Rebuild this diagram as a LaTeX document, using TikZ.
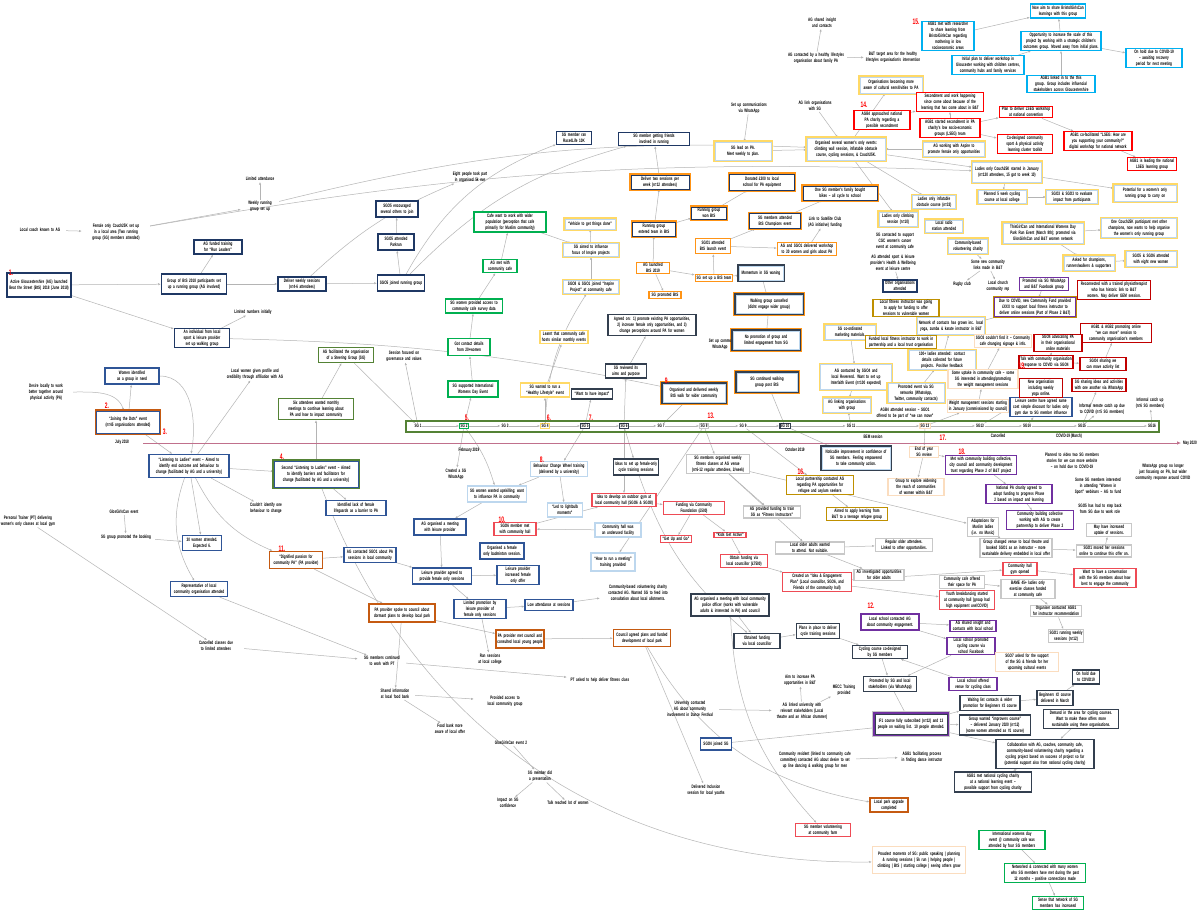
\documentclass[tikz,border=0pt]{standalone}
\usepackage{fontspec}
\setmainfont{Liberation Sans}[FakeStretch=0.62]
\usetikzlibrary{arrows.meta}
\hyphenpenalty=10000
\exhyphenpenalty=10000
\definecolor{nv}{HTML}{1F3864}
\definecolor{bl}{HTML}{2F5597}
\definecolor{lb}{HTML}{BDD7EE}
\definecolor{ye}{HTML}{FFD966}
\definecolor{og}{HTML}{FF9416}
\definecolor{bo}{HTML}{C55A11}
\definecolor{gr}{HTML}{00B050}
\definecolor{ol}{HTML}{548235}
\definecolor{sl}{HTML}{333F4F}
\definecolor{rd}{HTML}{FF0000}
\definecolor{lr}{HTML}{EE4B55}
\definecolor{dr}{HTML}{C00000}
\definecolor{pu}{HTML}{7030A0}
\definecolor{gd}{HTML}{BF9000}
\definecolor{gy}{HTML}{C8C8C8}
\definecolor{pc}{HTML}{FBDDBF}
\definecolor{cy}{HTML}{00B0F0}
\definecolor{tlc}{HTML}{C0708C}
\definecolor{ln}{HTML}{B4B4B4}
\pgfdeclarelayer{bg}
\pgfsetlayers{bg,main}
\tikzset{
 nbase/.style={font=\bfseries\fontsize{4.9}{5.9}\selectfont, align=center, inner xsep=1pt, inner ysep=1pt, text=black},
 bx/.style={nbase, fill=white, draw=#1, line width=1.3pt},
 dbx/.style 2 args={nbase, fill=white, draw=#2, line width=0.9pt, preaction={draw=#1, line width=3.8pt}},
 tbx/.style n args={3}{nbase, fill=white, draw=#3, line width=0.8pt, preaction={draw=#1, line width=6.4pt}, preaction={draw=#2, line width=3.6pt}},
 txt/.style={nbase},
 num/.style={text=rd, font=\bfseries\fontsize{8}{8}\selectfont, inner sep=0pt},
 ar/.style={draw=ln, line width=0.5pt, -{Latex[length=2.6pt,width=2.2pt]}},
 sgt/.style={nbase, inner sep=0.8pt},
}
\newcommand\Bx[7]{\node[#2,text width=#5pt,minimum height=#6pt] (#1) at (#3,#4) {#7};}
\newcommand\Tx[5]{\node[txt,text width=#4pt] (#1) at (#2,#3) {#5};}
\newcommand\Nm[3]{\node[num] at (#1,#2) {#3};}
\begin{document}
\begin{tikzpicture}[x=1pt,y=-1pt]
\begin{pgfonlayer}{bg}
\fill[white] (0,0) rectangle (1200,914);
\end{pgfonlayer}
\useasboundingbox (0,0) rectangle (1200,914);

% ---------- timeline ----------
\node[draw=ol, line width=1.2pt, minimum width=753pt, minimum height=11pt, inner sep=0pt] (tlbox) at (782.5,426.5) {};
\node[sgt] (sg1) at (418,426) {SG 1};
\node[sgt, fill=white, draw=gr, line width=1.2pt] (sg2) at (464,426) {SG 2};
\node[sgt] (sg3) at (505,426) {SG 3};
\node[sgt, fill=white, draw=ye, line width=1.2pt] (sg4) at (545,426) {SG 4};
\node[sgt, fill=white, draw=sl, line width=1.2pt] (sg5) at (585,426) {SG 5};
\node[sgt, fill=white, draw=sl, line width=1.2pt] (sg6) at (624,426) {SG 6};
\node[sgt] (sg7) at (661,426) {SG 7};
\node[sgt, fill=white, draw=gy, line width=1.2pt] (sg8) at (704,426) {SG 8};
\node[sgt] (sg9) at (743,426) {SG 9};
\node[sgt, fill=white, draw=sl, line width=1.2pt] (sg10) at (785,426) {SG 10};
\node[sgt] (sg11) at (851,426) {SG 11};
\node[sgt, fill=white, draw=pc, line width=1.2pt] (sg12) at (925,426) {SG 12};
\node[sgt] (sg13) at (980,426) {SG13};
\node[sgt] (sg14) at (1027,426) {SG14};
\node[sgt] (sg15) at (1082,426) {SG15};
\node[sgt] (sg16) at (1152,426) {SG16};
\coordinate (ts) at (143,443);
\coordinate (te) at (1181,443);
\draw[tlc, line width=0.7pt, -{Latex[length=4pt,width=3.5pt]}] (ts) -- (te);
\node[txt, anchor=west] (may) at (1182,443) {May 2020};
\node[txt] (jul) at (122,442) {July 2018};
\node[txt] (feb) at (469,450) {February 2019};
\node[txt] (oct) at (795,450) {October 2019};
\node[txt] (canc) at (998,436) {Cancelled};
\node[txt] (covid) at (1069,436) {COVID-19 (March)};
\node[txt] (bem) at (873,437) {BEM session};

% ---------- left / running ----------
\Bx{bts18}{bx=nv}{39}{285}{62}{24}{Active Gloucestershire (AG) launched Beat the Street (BtS) 2018 (June 2018)}
\Tx{coach}{40}{230}{50}{Local coach known to AG}
\Tx{femc}{116}{232}{66}{Female only Couch25K set up in a local area (Two running group (SG) members attended)}
\Tx{weekly}{260}{206}{36}{Weekly running group set up}
\Tx{limatt}{260}{179}{40}{Limited attendance}
\Bx{runlead}{bx=nv}{218}{247}{46}{14}{AG funded training for ``Run Leaders''}
\Bx{grp18}{bx=nv}{194}{284}{63}{20}{Group of BtS 2018 participants set up a running group (AG involved)}
\Bx{delw}{bx=nv}{302}{284}{46}{14}{Deliver weekly sessions (n=4-6 attendees)}
\Bx{sgo5j}{bx=nv}{401}{283}{45}{16}{SGO5 joined running group}
\Bx{parkrun}{bx=nv}{396}{242}{34}{16}{SGO5 attended Parkrun}
\Bx{encour}{bx=nv}{397}{209}{40}{16}{SGO5 encouraged several others to join}
\Tx{eight}{470}{177}{48}{Eight people took part in organised 5k run}
\Bx{race}{bx=nv}{574}{138}{33}{13}{SG member ran Race4Life 10K}
\Bx{friends}{bx=nv}{654}{139}{69}{13}{SG member getting friends involved in running}
\Bx{walkgrp}{bx=nv}{202}{338}{53}{18}{An individual from local sport \& leisure provider set up walking group}
\Tx{limnum}{253}{312}{45}{Limited numbers initially}

% ---------- green ----------
\Bx{cafew}{bx=gr}{510}{222}{70}{20}{Cafe want to work with wider population (perception that cafe primarily for Muslim community)}
\Bx{metcafe}{bx=gr}{500}{266}{32}{13}{AG met with community cafe}
\Bx{survey}{bx=gr}{474}{306}{55}{14}{SG women provided access to community cafe survey data}
\Bx{contacts}{bx=gr}{469}{347}{40}{17}{Got contact details from 20+women}
\Bx{iwd}{bx=gr}{473}{389}{48}{16}{SG supported International Womens Day Event}

% ---------- olive / blue ----------
\Bx{sgfac}{bx=ol}{346}{355}{53}{15}{AG facilitated the organisation of a Steering Group (SG)}
\Bx{sixatt}{bx=ol}{316}{409}{73}{21}{Six attendees wanted monthly meetings to continue learning about PA and how to impact community}
\Tx{govern}{404}{356}{42}{Session focused on governance and values}
\Tx{profile}{255}{374}{60}{Local women given profile and credibility through affiliation with AG}
\Bx{wneed}{bx=bl}{132}{376}{52}{16}{Women identified as a group in need}
\Bx{dots}{dbx={bo}{bl}}{128}{422}{61}{22}{``Joining the Dots'' event (n=45 organisations attended)}
\Tx{desire}{46}{392}{52}{Desire locally to work better together around physical activity (PA)}
\Bx{listen}{bx=bl}{189}{466}{78}{23}{``Listening to Ladies'' event -- Aimed to identify end outcome and behaviour to change (facilitated by AG and a university)}
\Bx{second}{dbx={ol}{bl}}{316}{474}{82}{26}{Second ``Listening to Ladies'' event -- Aimed to identify barriers and facilitators for change (facilitated by AG and a university)}
\Tx{couldnt}{266}{508}{56}{Couldn't identify one behaviour to change}
\Bx{lifeg}{bx=bl}{356}{508}{58}{15}{Identified lack of female lifeguards as a barrier to PA}
\Bx{thirty}{bx=bl}{202}{543}{37}{15}{30 women attended. Expected 6.}
\Tx{glosev}{124}{512}{40}{GlosGirlsCan event}
\Tx{sgprom}{126}{537}{56}{SG group promoted the booking}
\Tx{pt}{28}{521}{58}{Personal Trainer (PT) delivering women's only classes at local gym}
\Bx{rep}{bx=bl}{199}{589}{55}{15}{Representative of local community organisation attended}
\Bx{dignif}{bx=bo}{296}{560}{51}{17}{``Dignified passion for community PA'' (PA provider)}
\Bx{agmeet}{bx=bl}{440}{527}{50}{16}{AG organised a meeting with leisure provider}
\Bx{agcont}{bx=bl}{370}{555}{50}{15}{AG contacted SGO1 about PA sessions in local community}
\Bx{lagreed}{bx=bl}{442}{576}{57}{16}{Leisure provider agreed to provide female only sessions}
\Bx{linc}{bx=bl}{518}{575}{40}{14}{Leisure provider increased female only offer}
\Bx{badm}{bx=bl}{502}{551}{42}{16}{Organised a female only badminton session.}
\Bx{limprom}{bx=bl}{480}{609}{50}{16}{Limited promotion by leisure provider of female only sessions}
\Bx{lowatt}{bx=bl}{549}{605}{46}{11}{Low attendance at sessions}
\Bx{paspoke}{bx=bo}{402}{613}{64}{18}{PA provider spoke to council about dormant plans to develop local park}
\Bx{pamet}{bx=bo}{520}{639}{46}{18}{PA provider met council and consulted local young people}
\Bx{council}{bx=bo}{642}{638}{55}{17}{Council agreed plans and funded development of local park}
\Bx{park}{bx=bo}{889}{805}{36}{14}{Local park upgrade completed}
\Bx{sgo4j}{bx=bl}{716}{744}{29}{12}{SGO4 joined SG}
\Bx{leisdisc}{bx=bl}{1041}{407}{60}{19}{Leisure centre have agreed same cost simple discount for ladies only gym due to SG member influence}

% ---------- light blue ----------
\Bx{bcw}{bx=lb}{559}{469}{55}{15}{Behaviour Change Wheel training (delivered by a university)}
\Bx{upskill}{bx=lb}{497}{494}{57}{16}{SG women wanted upskilling; want to influence PA in community}
\Bx{bulb}{bx=lb}{565}{510}{33}{14}{``Led to lightbulb moments''}
\Bx{hallund}{bx=lb}{618}{530}{44}{14}{Community hall was an underused facility}
\Bx{howrun}{bx=lb}{613}{562}{42}{18}{``How to run a meeting'' training provided}

% ---------- slate ----------
\Bx{wantimp}{bx=sl}{592}{394}{39}{10}{``Want to have impact''}
\Bx{review}{bx=sl}{626}{371}{39}{14}{SG reviewed its aims and purpose}
\Bx{agreed}{bx=sl}{652}{325}{86}{21}{Agreed on: 1) promote existing PA opportunities, 2) increase female only opportunities, and 3) change perceptions around PA for women}
\Bx{ideacyc}{bx=sl}{636}{467}{43}{16}{Ideas to set up female-only cycle training sessions}
\Bx{notice}{dbx={sl}{lb}}{856}{458}{66}{22}{Noticable improvement in confidence of SG members. Feeling empowered to take community action.}
\Bx{obtained}{bx=sl}{757}{641}{44}{15}{Obtained funding via local councillor}
\Bx{plans}{bx=sl}{818}{631}{41}{15}{Plans in place to deliver cycle training sessions}
\Bx{cyccourse}{bx=sl}{880}{652}{53}{13}{Cycling course co-designed by SG members}
\Bx{promsg}{bx=sl}{890}{684}{51}{15}{Promoted by SG and local stakeholders (via WhatsApp)}
\Bx{if1}{tbx={gy}{pu}{sl}}{911}{724}{70}{20}{IF1 course fully subscribed (n=12) and 13 people on waiting list. 10 people attended.}
\Bx{waiting}{bx=sl}{990}{703}{58}{15}{Waiting list contacts \& wider promotion for Beginners \#2 course}
\Bx{improv}{bx=sl}{995}{725}{69}{20}{Group wanted ``improvers course'' -- delivered January 2020 (n=12) (some women attended as \#1 course)}
\Bx{beg2}{bx=sl}{1055}{698}{34}{15}{Beginners \#2 course delivered in March}
\Bx{onhold2}{bx=sl}{1086}{677}{25}{14}{On hold due to COVID19}
\Bx{demand}{bx=sl}{1081}{719}{73}{18}{Demand in the area for cycling courses. Want to make these offers more sustainable using these organisations.}
\Bx{collab}{bx=sl}{1045}{754}{96}{29}{Collaboration with AG, coaches, community cafe, community-based volunteering charity regarding a cycling project based on success of project so far (potential support also from national cycling charity)}
\Bx{agbcyc}{bx=sl}{993}{782}{75}{20}{AGB1 met national cycling charity at a national learning event -- possible support from cycling charity}
\Bx{police}{bx=sl}{730}{605}{76}{22}{AG organised a meeting with local community police officer (works with vulnerable adults \& interested in PA) and council}

% ---------- BtS 2019 ----------
\Bx{del2}{dbx={og}{nv}}{660}{182}{56}{14}{Deliver two sessions per week (n=12 attendees)}
\Bx{donated}{dbx={og}{nv}}{762}{182}{63}{16}{Donated £300 to local school for PA equipment}
\Bx{family}{dbx={og}{nv}}{840}{193}{72}{14}{One SG member's family bought bikes -- all cycle to school}
\Bx{won}{dbx={og}{nv}}{709}{213}{33}{12}{Running group won BtS}
\Bx{entered}{dbx={og}{nv}}{654}{229}{41}{14}{Running group entered team in BtS}
\Bx{champ}{dbx={og}{nv}}{775}{221}{49}{15}{SG members attended BtS Champions event}
\Tx{satellite}{825}{222}{44}{Link to Satellite Club (AG initiative) funding}
\Bx{launchev}{bx=og}{713}{246}{33}{15}{SGO1 attended BtS launch event}
\Bx{workshop}{bx=og}{807}{249}{57}{13}{AG and SGO1 delivered workshop to 30 women and girls about PA}
\Bx{launchnn}{bx=og}{653}{268}{31}{9}{AG launched BtS 2019}
\Bx{setup}{bx=og}{714}{278}{35}{7}{SG set up a BtS team}
\Bx{promnn}{bx=og}{665}{295}{30}{6}{SG promoted BtS}
\Bx{momentum}{dbx={sl}{lb}}{761}{273}{42}{14}{Momentum in SG waning}
\Bx{walkcanc}{tbx={og}{sl}{lb}}{769}{304}{64}{18}{Walking group cancelled (didnt engage wider group)}
\Bx{nopromo}{tbx={og}{sl}{lb}}{766}{340}{64}{18}{No promotion of group and limited engagement from SG}
\Bx{contwalk}{tbx={og}{sl}{lb}}{767}{382}{58}{18}{SG continued walking group post BtS}
\Bx{btswalk}{tbx={og}{sl}{lb}}{694}{393}{60}{18}{Organised and delivered weekly BtS walk for wider community}
\Tx{comms}{720}{344}{28}{Set up comms WhatsApp}

% ---------- yellow ----------
\Bx{vehicle}{dbx={ye}{lb}}{590}{224}{48}{10}{``Vehicle to get things done''}
\Bx{inspaim}{dbx={ye}{lb}}{591}{250}{53}{13}{SG aimed to influence focus of Inspire projects}
\Bx{inspj}{dbx={ye}{lb}}{591}{287}{53}{13}{SGO8 \& SGO1 joined ``Inspire Project'' at community cafe}
\Bx{learnt}{bx=ye}{564}{337}{46}{13}{Learnt that community cafe hosts similar monthly events}
\Bx{healthy}{bx=ye}{545}{390}{47}{14}{SG wanted to run a ``Healthy Lifestyle'' event}
\Bx{orgs}{dbx={ye}{lb}}{891}{85}{60}{16}{Organisations becoming more aware of cultural sensitivities to PA}
\Bx{aspire}{dbx={ye}{lb}}{954}{149}{59}{14}{AG working with Aspire to promote female only opportunities}
\Bx{ladc}{dbx={ye}{lb}}{1007}{172}{67}{20}{Ladies only Couch25K started in January (n=120 attendees, 15 got to week 10)}
\Bx{plan5}{dbx={ye}{lb}}{1002}{197}{46}{13}{Planned 5 week cycling course at local college}
\Bx{eval}{dbx={ye}{lb}}{1072}{197}{49}{13}{SGO3 \& SGO3 to evaluate impact from participants}
\Bx{potential}{dbx={ye}{lb}}{1145}{193}{60}{16}{Potential for a women's only running group to carry on}
\Bx{thisgirl}{dbx={ye}{lb}}{1043}{233}{78}{20}{ThisGirlCan and International Womens Day Park Run Event (March 8th); promoted via GlosGirlsCan and B\&T women network}
\Bx{onec}{dbx={ye}{lb}}{1139}{228}{73}{19}{One Couch25K participant met other champions, now wants to help organise the women's only running group}
\Bx{asked}{dbx={ye}{lb}}{1089}{263}{48}{14}{Asked for champions, runners/walkers \& supporters}
\Bx{sgofs}{dbx={ye}{lb}}{1151}{259}{48}{15}{SGO5 \& SGO6 attended with eight new women}
\Bx{inflat}{dbx={ye}{lb}}{934}{202}{41}{13}{Ladies only inflatable obstacle course (n=33)}
\Bx{climb}{dbx={ye}{lb}}{898}{219}{36}{14}{Ladies only climbing session (n=10)}
\Bx{radio}{dbx={ye}{lb}}{944}{226}{35}{12}{Local radio station attended}
\Bx{volch}{dbx={ye}{lb}}{968}{246}{37}{14}{Community-based volunteering charity}
\Bx{several}{dbx={ye}{lb}}{846}{149}{76}{22}{Organised several women's only events: climbing wall session, inflatable obstacle course, cycling sessions, \& Couch25K.}
\Bx{sglead}{dbx={ye}{lb}}{743}{151}{54}{18}{SG lead on PA. Meet weekly to plan.}
\Bx{market}{dbx={ye}{lb}}{850}{332}{48}{14}{SG co-ordinated marketing materials.}
\Bx{reverend}{dbx={ye}{lb}}{856}{377}{69}{25}{AG contacted by SGO4 and local Reverend. Want to set up Interfaith Event (n=100 expected)}
\Bx{linking}{dbx={ye}{lb}}{847}{405}{45}{14}{AG linking organisations with group}
\Bx{promev}{dbx={ye}{lb}}{916}{393}{54}{16}{Promoted event via SG networks (WhatsApp, Twitter, community contacts)}
\Bx{network}{dbx={ye}{lb}}{951}{326}{65}{17}{Network of contacts has grown inc. local yoga, zumba \& karate instructor in B\&T}
\Bx{hundred}{dbx={ye}{lb}}{942}{360}{64}{15}{100+ ladies attended: contact details collected for future projects. Positive feedback}

% ---------- red top right ----------
\Bx{secondm}{bx=rd}{950}{102}{65}{16}{Secondment and work happening since come about because of the learning that has come about in B\&T}
\Bx{agbsec}{bx=rd}{950}{128}{58}{16}{AGB1 started secondment in PA charity's low socio-economic groups (LSEG) team}
\Bx{planlseg}{bx=rd}{1026}{112}{51}{11}{Plan to deliver LSEG workshop at national convention}
\Bx{codes}{bx=rd}{1025}{144}{53}{17}{Co-designed community sport \& physical activity learning cluster toolkit}
\Bx{cofac}{bx=rd}{1098}{141}{66}{18}{AGB1 co-facilitated ``LSEG: How are you supporting your community?'' digital workshop for national network}
\Bx{leadlseg}{bx=rd}{1152}{164}{47}{12}{AGB1 is leading the national LSEG learning group}
\Bx{agbfour}{bx=rd}{882}{120}{54}{17}{AGB4 approached national PA charity regarding a possible secondment}

% ---------- cyan ----------
\Bx{nowaim}{bx=cy}{1058}{11}{53}{14}{Now aim to share BristolGirlsCan learnings with this group}
\Bx{agbres}{bx=cy}{948}{36}{50}{18}{AGB1 met with researcher to share learning from BristolGirlsCan regarding mothering in low socioeconomic areas}
\Bx{opport}{bx=cy}{1061}{41}{78}{18}{Opportunity to increase the scale of this project by working with a strategic children's outcomes group. Moved away from initial plans.}
\Bx{onholda}{bx=cy}{1154}{58}{54}{17}{On hold due to COVID-19 -- awaiting recovery period for next meeting}
\Bx{initial}{bx=cy}{988}{65}{70}{17}{Initial plan to deliver workshop in Gloucester working with children centres, community hubs and family services}
\Bx{linkedin}{bx=cy}{1061}{84}{66}{17}{AGB1 linked in to the this group. Group includes influencial stakeholders across Gloucestershire}

% ---------- plain top ----------
\Tx{agshared}{822}{23}{40}{AG shared insight and contacts}
\Tx{healthyorg}{816}{58}{60}{AG contacted by a healthy lifestyles organisation about family PA}
\Tx{target}{893}{57}{56}{B\&T target area for the healthy lifestyles organisation's intervention}
\Tx{setcomm}{749}{108}{42}{Set up communications via WhatsApp}
\Tx{aglink}{815}{106}{36}{AG link organisations with SG}
\Tx{cgc}{895}{241}{60}{SG contacted to support CGC women's cancer event at community cafe}
\Tx{hw}{893}{263}{60}{AG attended sport \& leisure provider's Health \& Wellbeing event at leisure centre}
\Tx{newlinks}{988}{265}{46}{Some new community links made in B\&T}
\Tx{rugby}{962}{284}{22}{Rugby club}
\Tx{church}{998}{286}{30}{Local church community rep}
\Bx{otherorg}{bx=nv}{900}{286}{32}{12}{Other organisations attended}
\Bx{fitinst}{bx=gd}{906}{308}{64}{16}{Local fitness instructor was going to apply for funding to offer sessions to vulnerable women}
\Bx{funded}{bx=gd}{901}{342}{69}{10}{Funded local fitness instructor to work in partnership and a local trust organisation}
\Bx{signage}{bx=pc}{1003}{341}{55}{9}{SGO3 couldn't find it -- Community cafe changing signage \& info.}
\Bx{uptake}{bx=pc}{983}{379}{68}{15}{Some uptake in community cafe -- some SG interested in attending/promoting the weight management sessions}
\Bx{weight}{bx=pc}{978}{406}{59}{11}{Weight management sessions starting in January (commissioned by council)}
\Tx{agbatt}{905}{413}{62}{AGB4 attended session -- SGO1 offered to be part of ``we can move''}

% ---------- purple / dark red right ----------
\Bx{promwa}{bx=pu}{1044}{284}{47}{12}{Promoted via SG WhatsApp and B\&T Facebook group}
\Bx{covidfund}{dbx={gd}{pu}}{1035}{307}{79}{15}{Due to COVID, new Community Fund provided £XXX to support local fitness instructor to deliver online sessions (Part of Phase 2 B\&T)}
\Bx{physio}{bx=dr}{1114}{290}{71}{17}{Reconnected with a trained physiotherapist who has historic link to B\&T women. May deliver GEM session.}
\Bx{wecan}{bx=dr}{1116}{333}{69}{16}{AGB1 \& AGB2 promoting online ``we can move'' session to community organisation's members}
\Bx{sgoadv}{bx=dr}{1058}{343}{46}{8}{SGO4 advocating PA in their organisational online materials}
\Bx{talk}{bx=dr}{1046}{362}{52}{9}{Talk with community organisation response to COVID via SGO4}
\Bx{sgoshare}{bx=dr}{1103}{364}{44}{9}{SGO4 sharing we can move activity list}
\Bx{sgshare}{bx=dr}{1099}{385}{52}{8}{SG sharing ideas and activities with one another via WhatsApp}
\Bx{yoga}{bx=dr}{1041}{388}{41}{8}{New organisation including weekly yoga online.}
\Tx{remote}{1102}{409}{56}{Informal remote catch up due to COVID (n=5 SG members)}
\Tx{informal}{1150}{403}{40}{Informal catch up (n=6 SG members)}

% ---------- grey ----------
\Bx{fitness}{bx=gy}{718}{464}{61}{18}{SG members organised weekly fitness classes at AG venue (n=6-12 regular attendees, 2/week)}
\Bx{agfund}{bx=gy}{772}{512}{55}{12}{AG provided funding to train SG as ``Fitness Instructors''}
\Bx{older}{bx=gy}{810}{548}{67}{12}{Local older adults wanted to attend. Not suitable.}
\Bx{investig}{bx=gy}{879}{575}{48}{9}{AG investigated opportunities for older adults}
\Bx{regular}{bx=gy}{904}{545}{55}{9}{Regular older attendees. Linked to other opportunities.}
\Bx{muslim}{bx=gy}{983}{527}{29}{11}{Adaptations for Muslim ladies (i.e. no Music)}
\Bx{venue}{bx=gy}{1016}{548}{70}{14}{Group changed venue to local theatre and booked SGO1 as an instructor -- more sustainable delivery embedded in local offer}
\Bx{online}{bx=gy}{1104}{551}{53}{12}{SGO1 moved her sessions online to continue this offer on.}
\Bx{uptaketwo}{bx=gy}{1109}{530}{43}{9}{May have increased uptake of sessions.}
\Bx{bame}{bx=gy}{1028}{589}{52}{11}{BAME 45+ ladies only exercise classes funded at community cafe}
\Bx{cafespace}{bx=gy}{962}{582}{43}{11}{Community cafe offered their space for PA}
\Bx{organiser}{bx=gy}{1056}{611}{49}{11}{Organiser contacted AGB1 for instructor recommendation}
\Bx{sgorun}{bx=gy}{1066}{636}{33}{12}{SGO1 running weekly sessions (n=12)}

% ---------- light red ----------
\Bx{sgomet}{bx=lr}{515}{529}{40}{10}{SGO6 member met with community hall}
\Bx{outgym}{bx=lr}{624}{500}{62}{11}{Idea to develop an outdoor gym at local community hall (SGO6 \& SGO8)}
\Bx{cfund}{bx=lr}{694}{508}{59}{10}{Funding via Community Foundation (£500)}
\Bx{getup}{bx=lr}{676}{539}{29}{5}{``Get Up and Go''}
\Bx{kids}{bx=lr}{730}{535}{30}{5}{``Kids Get Active''}
\Bx{obtain}{bx=lr}{744}{561}{45}{11}{Obtain funding via local councillor (£7500)}
\Bx{idea}{bx=lr}{817}{582}{67}{17}{Created an ``Idea \& Engagement Plan'' (Local councillor, SGO6, and Friends of the community hall)}
\Bx{hallgym}{bx=lr}{1020}{569}{32}{12}{Community hall gym opened}
\Bx{convers}{bx=lr}{1105}{578}{60}{17}{Want to have a conversation with the SG members about how best to engage the community}
\Bx{youth}{bx=lr}{967}{600}{53}{14}{Youth breakdancing started at community hall (group had high equipment use/COVID)}
\Bx{farm}{bx=lr}{823}{830}{53}{13}{SG member volunteering at community farm}

% ---------- purple ----------
\Bx{metcoll}{bx=pu}{981}{465}{69}{17}{Met with community building collective, city council and community development trust regarding Phase 2 of B\&T project}
\Bx{natpa}{bx=pu}{1019}{494}{64}{16}{National PA charity agreed to adopt funding to progress Phase 2 based on impact and learning}
\Bx{commbuild}{bx=pu}{1040}{520}{65}{17}{Community building collective working with AG to create partnership to deliver Phase 2}
\Bx{school}{bx=pu}{890}{622}{56}{16}{Local school contacted AG about community engagement.}
\Bx{agschool}{bx=pu}{973}{626}{44}{11}{AG shared insight and contacts with local school}
\Bx{schoolfb}{bx=pu}{971}{646}{46}{10}{Local school promoted cycling course via school Facebook}
\Bx{schoolven}{bx=pu}{973}{684}{46}{10}{Local school offered venue for cycling class}

% ---------- peach / gold / green bottom ----------
\Bx{endyear}{bx=pc}{924}{452}{27}{9}{End of year SG review}
\Bx{explore}{bx=pc}{916}{487}{54}{15}{Group to explore widening the reach of communities of women within B\&T}
\Bx{sgoseven}{bx=pc}{1027}{662}{61}{15}{SGO7 asked for the support of the SG \& friends for her upcoming cultural events}
\Bx{proud}{bx=pc}{919}{860}{91}{27}{Proudest moments of SG: public speaking | planning \& running sessions | 5k run | helping people | climbing | BtS | starting college | seeing others grow}
\Bx{refugee}{bx=gd}{820}{485}{65}{18}{Local partnership contacted AG regarding PA opportunities for refugee and asylum seekers}
\Bx{teen}{bx=gd}{857}{514}{59}{12}{Aimed to apply learning from B\&T to a teenage refugee group}
\Bx{iwdtwo}{bx=gr}{1012}{840}{64}{18}{International womens day event @ community cafe was attended by four SG members}
\Bx{netw}{bx=gr}{1045}{873}{79}{17}{Networked \& connected with many women who SG members have met during the past 12 months -- positive connections made}
\Bx{sense}{bx=gr}{1058}{903}{49}{13}{Sense that network of SG members has increased}

% ---------- plain bottom ----------
\Tx{ptcont}{382}{661}{46}{SG members continued to work with PT}
\Tx{college}{490}{659}{36}{Ran sessions at local college}
\Tx{ptask}{600}{680}{64}{PT asked to help deliver fitness class}
\Tx{shared}{395}{694}{38}{Shared information at local food bank}
\Tx{provided}{505}{701}{60}{Provided access to local community group}
\Tx{foodbank}{450}{729}{44}{Food bank more aware of local offer}
\Tx{glostwo}{511}{743}{40}{GlosGirlsCan event 2}
\Tx{pres}{540}{776}{32}{SG member did a presentation}
\Tx{impact}{508}{803}{28}{Impact on SG confidence}
\Tx{talkr}{568}{803}{48}{Talk reached lot of women}
\Tx{cancel}{216}{646}{54}{Cancelled classes due to limited attendees}
\Tx{inclusion}{706}{790}{46}{Delivered Inclusion session for local youths}
\Tx{univ}{690}{709}{56}{University contacted AG about community involvement in Dance Festival}
\Tx{aglinked}{802}{711}{58}{AG linked university with relevant stakeholders (Local theatre and an African drummer)}
\Tx{aimpa}{800}{680}{36}{Aim to increase PA opportunities in B\&T}
\Tx{mecc}{844}{690}{26}{MECC Training provided}
\Tx{resident}{815}{760}{80}{Community resident (linked to community cafe committee) contacted AG about desire to set up line dancing \& walking group for men}
\Tx{dance}{922}{757}{46}{AGB1 facilitating process in finding dance instructor}
\Tx{allot}{638}{593}{74}{Community-based volunteering charity contacted AG. Wanted SG to feed into consultation about local allotments.}
\Tx{watwo}{456}{474}{28}{Created a SG WhatsApp}
\Tx{video}{1072}{461}{68}{Planned to video two SG members stories for we can move website -- on hold due to COVID-19}
\Tx{wagroup}{1163}{472}{58}{WhatsApp group no longer just focusing on PA, but wider community response around COVID}
\Tx{webinar}{1098}{486}{64}{Some SG members interested in attending ``Women in Sport'' webinars -- AG to fund}
\Tx{stepback}{1100}{509}{48}{SGO5 has had to step back from SG due to work role}

% ---------- numbers ----------
\Nm{11}{273}{1.}
\Nm{107}{406}{2.}
\Nm{165}{432}{3.}
\Nm{282}{457}{4.}
\Nm{467}{418}{5.}
\Nm{549}{418}{6.}
\Nm{591}{418}{7.}
\Nm{542}{460}{8.}
\Nm{667}{381}{9.}
\Nm{502}{520}{10.}
\Nm{282}{549}{11.}
\Nm{871}{606}{12.}
\Nm{711}{416}{13.}
\Nm{864}{105}{14.}
\Nm{916}{22}{15.}
\Nm{801}{472}{16.}
\Nm{943}{438}{17.}
\Nm{962}{452}{18.}
\Nm{1022}{366}{19.}

% ---------- connectors ----------
\begin{pgfonlayer}{bg}
\foreach \a/\b in {sg1/sg2,sg2/sg3,sg3/sg4,sg4/sg5,sg5/sg6,sg6/sg7,sg7/sg8,sg8/sg9,sg9/sg10,sg10/sg11,sg11/sg12,sg12/sg13,sg13/sg14,sg14/sg15,sg15/sg16}
  \draw[ar] (\a) -- (\b);
\foreach \a/\b in {coach/femc,femc/weekly,weekly/limatt,bts18/grp18,grp18/runlead,grp18/delw,delw/sgo5j,sgo5j/parkrun,parkrun/encour,bts18/walkgrp,walkgrp/limnum,
 dots/wneed,dots/listen,listen/profile,listen/second,listen/couldnt,listen/thirty,second/lifeg,second/sixatt,sixatt/sgfac,sgfac/sg1,sg1/govern,glosev/sgprom,sgprom/thirty,
 pt/cancel,cancel/ptcont,ptcont/ptask,rep/ptcont,dignif/paspoke,dignif/agcont,agcont/lagreed,agmeet/lagreed,lagreed/linc,lagreed/limprom,limprom/lowatt,limprom/college,
 paspoke/pamet,pamet/council,paspoke/shared,shared/foodbank,shared/provided,glostwo/pres,pres/impact,pres/talkr,upskill/agmeet,bcw/bulb,bcw/upskill,sg5/bcw,sg2/watwo,
 sg2/iwd,iwd/contacts,contacts/survey,survey/metcafe,metcafe/cafew,sg4/healthy,healthy/learnt,inspj/inspaim,inspaim/vehicle,cafew/inspaim,sg5/wantimp,sg6/review,review/agreed,
 sg6/ideacyc,obtained/plans,plans/cyccourse,cyccourse/promsg,promsg/if1,if1/waiting,waiting/beg2,beg2/onhold2,if1/improv,if1/collab,demand/collab,agbcyc/collab,
 school/agschool,school/schoolfb,schoolfb/promsg,schoolven/cyccourse,sg7/btswalk,sg10/contwalk,setup/momentum,momentum/walkcanc,walkcanc/nopromo,nopromo/comms,
 launchnn/setup,launchnn/promnn,launchnn/entered,entered/del2,del2/friends,entered/won,won/donated,setup/launchev,launchev/workshop,launchev/champ,champ/family,workshop/satellite,
 healthyorg/agshared,healthyorg/target,setcomm/sglead,aglink/several,sglead/several,several/inflat,several/climb,several/ladc,several/orgs,agbsec/secondm,agbsec/planlseg,
 planlseg/cofac,cofac/leadlseg,agbsec/codes,agbres/nowaim,initial/opport,linkedin/opport,opport/nowaim,opport/onholda,ladc/potential,ladc/plan5,plan5/eval,thisgirl/onec,
 thisgirl/asked,asked/sgofs,newlinks/rugby,newlinks/church,volch/newlinks,aspire/several,hw/otherorg,funded/covidfund,reverend/linking,reverend/promev,promev/hundred,
 hundred/network,market/reverend,sg12/weight,weight/uptake,uptake/signage,sg12/endyear,endyear/explore,endyear/metcoll,metcoll/natpa,natpa/commbuild,sg15/remote,sg16/informal,
 talk/sgoshare,talk/sgoadv,sgoshare/wecan,sg14/leisdisc,sg15/sgshare,promwa/covidfund,sg8/fitness,fitness/agfund,fitness/older,older/investig,older/regular,fitness/muslim,
 muslim/venue,venue/online,online/uptaketwo,refugee/teen,sg10/notice,sgomet/outgym,outgym/cfund,cfund/getup,cfund/kids,kids/obtain,obtain/idea,idea/hallgym,hallgym/convers,
 cafespace/bame,idea/youth,bame/organiser,organiser/sgorun,iwdtwo/netw,netw/sense,univ/aglinked,aglinked/aimpa,aglinked/mecc,resident/dance,hallund/sgomet,police/obtained,
 sgo4j/if1,council/inclusion,sg11/linking,sg9/refugee,agbfour/secondm,sg13/yoga,sg6/outgym,sg8/howrun,lowatt/allot}
  \draw[ar] (\a) -- (\b);
\draw[ar] (femc) to[bend left=6] (ladc);
\draw[ar] (weekly) to[bend left=8] (several);
\draw[ar] (sgo5j) to[bend left=20] (race);
\draw[ar] (sgo5j) to[bend left=15] (friends);
\draw[ar] (delw) to[bend left=10] (eight);
\draw[ar] (walkgrp) to[bend left=5] (btswalk);
\draw[ar] (desire) to[out=0,in=110] (dots);
\draw[ar] (wneed) to[out=0,in=80] (listen);
\draw[ar] (listen) to[bend right=25] (rep);
\draw[ar] (listen) to[bend right=20] (dignif);
\draw[ar] (council) to[bend right=25] (park);
\draw[ar] (sg2) to[bend left=10] (upskill);
\draw[ar] (sg4) to[bend left=15] (inspj);
\draw[ar] (ideacyc) to[bend right=15] (obtained);
\draw[ar] (police) to[bend right=20] (farm);
\draw[ar] (second) to[bend right=35] (proud);
\end{pgfonlayer}
\end{tikzpicture}
\end{document}
